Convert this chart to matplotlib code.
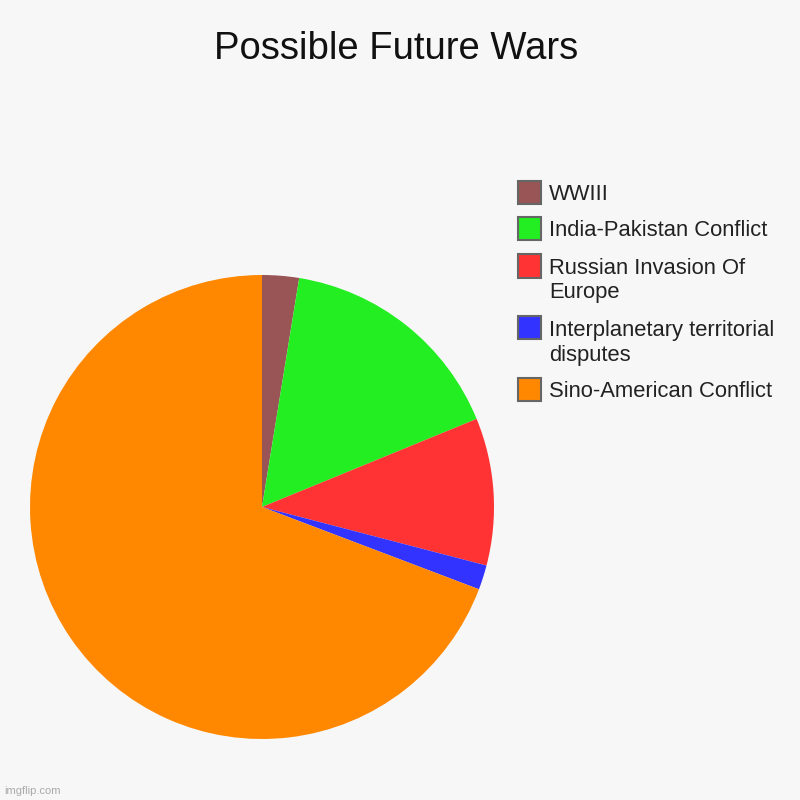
import matplotlib
matplotlib.use("Agg")
import matplotlib.pyplot as plt
from matplotlib.patches import Rectangle

title = "Possible Future Wars"
categories = ["WWIII", "India-Pakistan Conflict", "Russian Invasion Of\nEurope",
              "Interplanetary territorial\ndisputes", "Sino-American Conflict"]
values = [3, 19, 12, 2, 81]
colors = ["#995555", "#22ee22", "#ff3333", "#3333ff", "#ff8800"]

BG = "#f7f7f7"
plt.rcParams['font.family'] = ['Liberation Sans', 'DejaVu Sans']

W = H = 800
fig = plt.figure(figsize=(8, 8), dpi=100, facecolor=BG)

# pie axes: center (262, 507), radius 232 px
cx, cy, r = 262, 507, 232
ax = fig.add_axes([(cx - r) / W, (H - cy - r) / H, 2 * r / W, 2 * r / H])
ax.set_facecolor(BG)
ax.pie(values, colors=colors, startangle=90, counterclock=False,
       radius=1.0, wedgeprops=dict(linewidth=0, antialiased=True))
ax.set_xlim(-1, 1)
ax.set_ylim(-1, 1)
ax.set_aspect('equal')
ax.axis('off')

fig.text(396 / W, 1 - 59 / H, title, ha='center', va='baseline', fontsize=27.5, color='#111111')

# legend (drawn manually to match layout)
box_x, box_w = 518, 23
text_x = 549
row_centers = [192.5, 229, 266, 328, 390]
line_gap = 25
for lab, col, yc in zip(categories, colors, row_centers):
    fig.patches.append(Rectangle((box_x / W, 1 - (yc + box_w / 2) / H), box_w / W, box_w / H,
                                 transform=fig.transFigure, facecolor=col,
                                 edgecolor='#666666', linewidth=1.5))
    for i, line in enumerate(lab.split("\n")):
        fig.text(text_x / W, 1 - (yc + 7.5 + i * line_gap) / H, line, ha='left',
                 va='baseline', fontsize=15.8, color='#222222')

fig.text(4 / W, 1 - 791 / H, "imgflip.com", ha='left', va='center', fontsize=8, color='#aaaaaa')

fig.savefig("out.png", dpi=100, facecolor=BG)
